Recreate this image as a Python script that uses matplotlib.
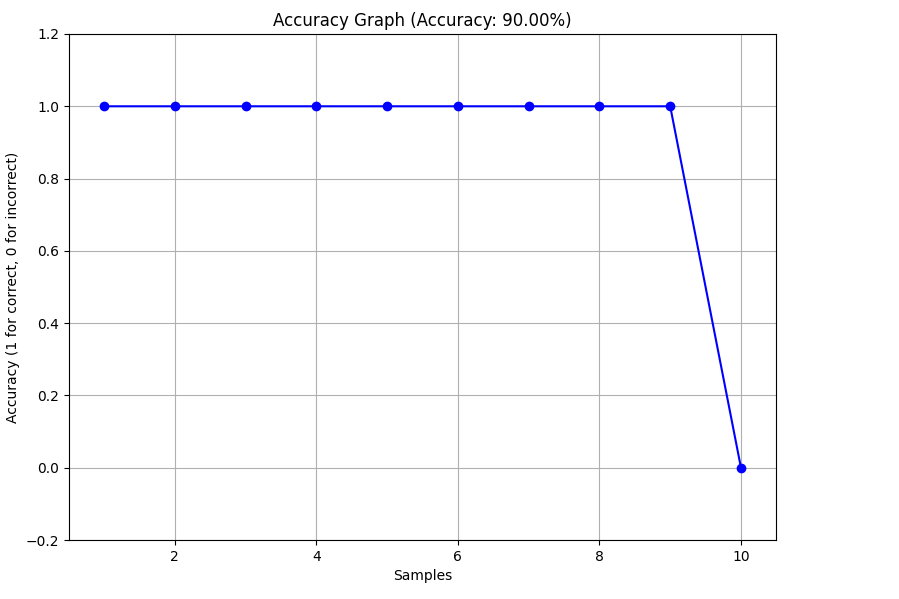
import matplotlib
matplotlib.use("Agg")
import matplotlib.pyplot as plt

samples = [1, 2, 3, 4, 5, 6, 7, 8, 9, 10]
accuracy = [1, 1, 1, 1, 1, 1, 1, 1, 1, 0]

fig = plt.figure(figsize=(8.99, 5.99), dpi=100)
ax = fig.add_axes([69/899, 1-540/599, (776-69)/899, (540-34)/599])
ax.plot(samples, accuracy, marker='o', color='blue')
ax.set_ylim(-0.2, 1.2)
ax.set_xlim(0.505, 10.495)
ax.set_title("Accuracy Graph (Accuracy: 90.00%)")
ax.set_xlabel("Samples")
ax.set_ylabel("Accuracy (1 for correct, 0 for incorrect)")
ax.grid(True)
fig.savefig("out.png", dpi=100)
